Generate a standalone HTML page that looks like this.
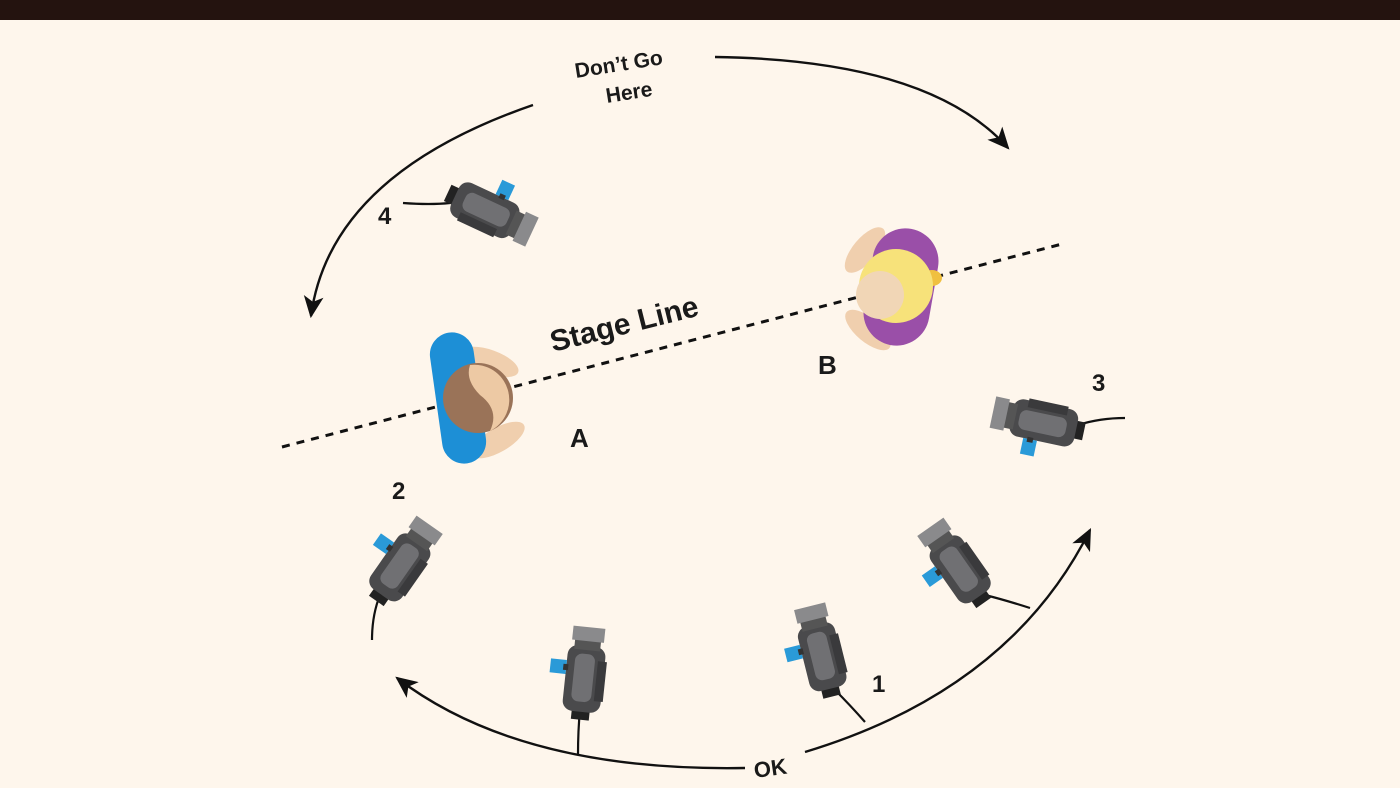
<!DOCTYPE html>
<html><head><meta charset="utf-8"><style>
html,body{margin:0;padding:0;background:#fef6ec;}
svg{display:block}
text{font-family:"Liberation Sans Narrow","Liberation Sans",sans-serif;font-weight:bold;fill:#1a1a1a}
</style></head><body>
<svg width="1400" height="788" viewBox="0 0 1400 788" xmlns="http://www.w3.org/2000/svg">
<defs>
<marker id="ah" markerWidth="22" markerHeight="22" refX="18" refY="9" orient="auto" markerUnits="userSpaceOnUse" viewBox="0 0 20 18">
<path d="M0,0 L20,9 L0,18 L5,9 Z" fill="#111"/></marker>
<g id="cam">
<rect x="-50" y="-9" width="12" height="18" fill="#222"/>
<rect x="-42" y="-19" width="66" height="38" rx="10" fill="#4a4a4c"/>
<rect x="-32" y="-11" width="48" height="20" rx="7" fill="#707073"/>
<rect x="-30" y="12" width="40" height="9" fill="#3a3a3c"/>
<rect x="20" y="-13" width="10" height="26" fill="#555"/>
<rect x="29" y="-16" width="14" height="32" fill="#8a8a8c"/>
<rect x="-6" y="-35" width="14" height="16" fill="#2a9ad8"/>
<rect x="-2" y="-22" width="6" height="5" fill="#333"/>
</g>
</defs>
<rect x="0" y="0" width="1400" height="20" fill="#24130f"/>
<line x1="282" y1="447" x2="1062" y2="244" stroke="#111" stroke-width="3" stroke-dasharray="8,7"/>
<g fill="none" stroke="#111" stroke-width="2.4">
<path d="M533,105 Q330,175 311,316" marker-end="url(#ah)"/>
<path d="M715,57 Q930,60 1008,148" marker-end="url(#ah)"/>
<path d="M745,768 Q520,772 397,678" marker-end="url(#ah)"/>
<path d="M805,752 Q1010,690 1090,530" marker-end="url(#ah)"/>
</g>
<g fill="none" stroke="#111" stroke-width="2.2">
<path d="M450,203 Q430,205 403,203"/>
<path d="M1078,425 Q1100,418 1125,418"/>
<path d="M380,595 Q372,615 372,640"/>
<path d="M580,710 Q578,730 578,755"/>
<path d="M835,690 Q850,705 865,722"/>
<path d="M985,595 Q1005,600 1030,608"/>
</g>
<use href="#cam" transform="translate(493,214) rotate(25)"/>
<use href="#cam" transform="translate(1035,421) rotate(192)"/>
<use href="#cam" transform="translate(405,560) rotate(-55)"/>
<use href="#cam" transform="translate(585,670) rotate(-84)"/>
<use href="#cam" transform="translate(820,648) rotate(-104)"/>
<use href="#cam" transform="translate(955,562) rotate(-125)"/>
<g>
<ellipse cx="490" cy="362" rx="30" ry="12" fill="#f0cfae" transform="rotate(20 490 362)"/>
<ellipse cx="498" cy="440" rx="30" ry="12" fill="#f0cfae" transform="rotate(-30 498 440)"/>
<rect x="436" y="332" width="44" height="132" rx="22" fill="#1d8fd6" transform="rotate(-8 458 398)"/>
<circle cx="478" cy="398" r="35" fill="#9a7358"/>
<path d="M470,365 A35,35 0 0 1 490,431 Q500,410 480,395 Q465,380 470,365 Z" fill="#edc9a4"/>
</g>
<g>
<ellipse cx="865" cy="250" rx="28" ry="12" fill="#f0cfae" transform="rotate(-50 865 250)"/>
<ellipse cx="868" cy="330" rx="28" ry="12" fill="#f0cfae" transform="rotate(40 868 330)"/>
<rect x="868" y="228" width="66" height="118" rx="33" fill="#9a4fa8" transform="rotate(10 901 287)"/>
<ellipse cx="932" cy="278" rx="10" ry="8" fill="#f0c040"/>
<circle cx="896" cy="286" r="37" fill="#f7e27a"/>
<circle cx="880" cy="295" r="24" fill="#f1d6b6"/>
</g>
<text x="0" y="0" font-size="21" transform="translate(576,78) rotate(-9)">Don’t Go</text>
<text x="0" y="0" font-size="21" transform="translate(607,103) rotate(-9)">Here</text>
<text x="0" y="0" font-size="30" transform="translate(553,352) rotate(-14)">Stage Line</text>
<text x="570" y="447" font-size="26">A</text>
<text x="818" y="374" font-size="26">B</text>
<text x="378" y="224" font-size="24">4</text>
<text x="1092" y="391" font-size="24">3</text>
<text x="392" y="499" font-size="24">2</text>
<text x="872" y="692" font-size="24">1</text>
<text x="0" y="0" font-size="22" transform="translate(755,778) rotate(-8)">OK</text>
</svg>
</body></html>
